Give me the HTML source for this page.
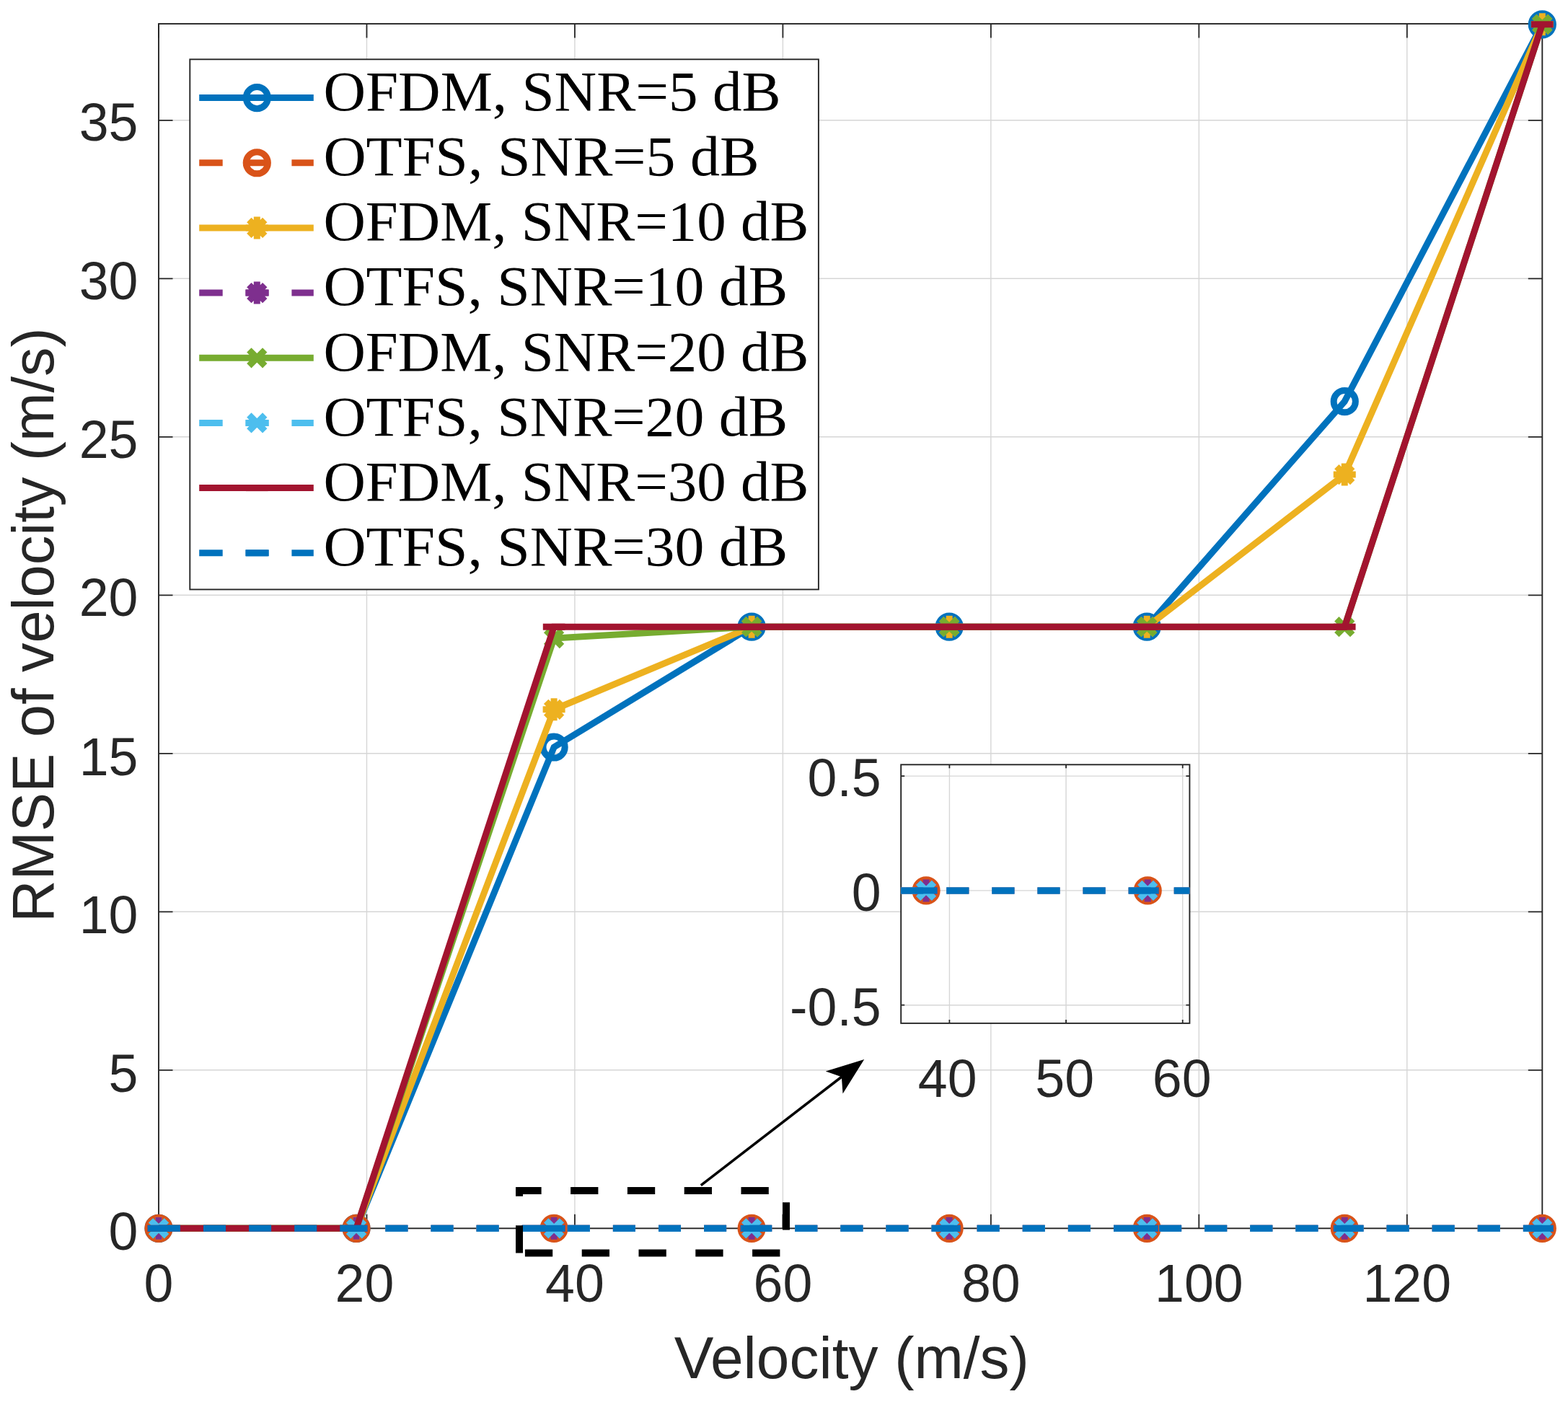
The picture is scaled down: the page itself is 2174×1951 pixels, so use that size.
<!DOCTYPE html>
<html><head><meta charset="utf-8"><title>RMSE of velocity</title>
<style>html,body{margin:0;padding:0;background:#fff;width:2174px;height:1951px;overflow:hidden}svg{display:block}</style>
</head><body>
<svg width="2174" height="1951" viewBox="0 0 2174 1951">
<rect x="0" y="0" width="2174" height="1951" fill="#ffffff"/>
<path d="M508.47 33V1703.3M796.93 33V1703.3M1085.4 33V1703.3M1373.86 33V1703.3M1662.33 33V1703.3M1950.8 33V1703.3M220 1483.8H2138.3M220 1264.3H2138.3M220 1044.8H2138.3M220 825.3H2138.3M220 605.8H2138.3M220 386.3H2138.3M220 166.8H2138.3" stroke="#d6d6d6" stroke-width="1.4" fill="none"/>
<path d="M220 1703.3V1683.8M220 33V52.5M508.47 1703.3V1683.8M508.47 33V52.5M796.93 1703.3V1683.8M796.93 33V52.5M1085.4 1703.3V1683.8M1085.4 33V52.5M1373.86 1703.3V1683.8M1373.86 33V52.5M1662.33 1703.3V1683.8M1662.33 33V52.5M1950.8 1703.3V1683.8M1950.8 33V52.5M220 1703.3H239.5M2138.3 1703.3H2118.8M220 1483.8H239.5M2138.3 1483.8H2118.8M220 1264.3H239.5M2138.3 1264.3H2118.8M220 1044.8H239.5M2138.3 1044.8H2118.8M220 825.3H239.5M2138.3 825.3H2118.8M220 605.8H239.5M2138.3 605.8H2118.8M220 386.3H239.5M2138.3 386.3H2118.8M220 166.8H239.5M2138.3 166.8H2118.8" stroke="#262626" stroke-width="1.8" fill="none"/>
<rect x="220" y="33" width="1918.3" height="1670.3" fill="none" stroke="#262626" stroke-width="1.9"/>
<polyline points="220,1703.3 494.04,1703.3 768.09,1036.02 1042.13,869.2 1316.17,869.2 1590.21,869.2 1864.26,556.63 2138.3,33.78" fill="none" stroke="#0072BD" stroke-width="9" stroke-linejoin="miter" stroke-miterlimit="10"/>
<circle cx="220" cy="1703.3" r="15.1" fill="none" stroke="#0072BD" stroke-width="9"/>
<circle cx="494.04" cy="1703.3" r="15.1" fill="none" stroke="#0072BD" stroke-width="9"/>
<circle cx="768.09" cy="1036.02" r="15.1" fill="none" stroke="#0072BD" stroke-width="9"/>
<circle cx="1042.13" cy="869.2" r="15.1" fill="none" stroke="#0072BD" stroke-width="9"/>
<circle cx="1316.17" cy="869.2" r="15.1" fill="none" stroke="#0072BD" stroke-width="9"/>
<circle cx="1590.21" cy="869.2" r="15.1" fill="none" stroke="#0072BD" stroke-width="9"/>
<circle cx="1864.26" cy="556.63" r="15.1" fill="none" stroke="#0072BD" stroke-width="9"/>
<circle cx="2138.3" cy="33.78" r="15.1" fill="none" stroke="#0072BD" stroke-width="9"/>
<polyline points="220,1703.3 494.04,1703.3 768.09,1703.3 1042.13,1703.3 1316.17,1703.3 1590.21,1703.3 1864.26,1703.3 2138.3,1703.3" fill="none" stroke="#D95319" stroke-width="9" stroke-dasharray="31 32.1" stroke-dashoffset="1.1"/>
<circle cx="220" cy="1703.3" r="15.1" fill="none" stroke="#D95319" stroke-width="9"/>
<circle cx="494.04" cy="1703.3" r="15.1" fill="none" stroke="#D95319" stroke-width="9"/>
<circle cx="768.09" cy="1703.3" r="15.1" fill="none" stroke="#D95319" stroke-width="9"/>
<circle cx="1042.13" cy="1703.3" r="15.1" fill="none" stroke="#D95319" stroke-width="9"/>
<circle cx="1316.17" cy="1703.3" r="15.1" fill="none" stroke="#D95319" stroke-width="9"/>
<circle cx="1590.21" cy="1703.3" r="15.1" fill="none" stroke="#D95319" stroke-width="9"/>
<circle cx="1864.26" cy="1703.3" r="15.1" fill="none" stroke="#D95319" stroke-width="9"/>
<circle cx="2138.3" cy="1703.3" r="15.1" fill="none" stroke="#D95319" stroke-width="9"/>
<polyline points="220,1703.3 494.04,1703.3 768.09,983.78 1042.13,869.2 1316.17,869.2 1590.21,869.2 1864.26,658.04 2138.3,33.78" fill="none" stroke="#EDB120" stroke-width="9" stroke-linejoin="miter" stroke-miterlimit="10"/>
<path d="M204.5 1703.3L235.5 1703.3M220 1687.8L220 1718.8M209.04 1692.34L230.96 1714.26M209.04 1714.26L230.96 1692.34" stroke="#EDB120" stroke-width="9" fill="none"/>
<path d="M478.54 1703.3L509.54 1703.3M494.04 1687.8L494.04 1718.8M483.08 1692.34L505 1714.26M483.08 1714.26L505 1692.34" stroke="#EDB120" stroke-width="9" fill="none"/>
<path d="M752.59 983.78L783.59 983.78M768.09 968.28L768.09 999.28M757.13 972.82L779.05 994.74M757.13 994.74L779.05 972.82" stroke="#EDB120" stroke-width="9" fill="none"/>
<path d="M1026.63 869.2L1057.63 869.2M1042.13 853.7L1042.13 884.7M1031.17 858.24L1053.09 880.16M1031.17 880.16L1053.09 858.24" stroke="#EDB120" stroke-width="9" fill="none"/>
<path d="M1300.67 869.2L1331.67 869.2M1316.17 853.7L1316.17 884.7M1305.21 858.24L1327.13 880.16M1305.21 880.16L1327.13 858.24" stroke="#EDB120" stroke-width="9" fill="none"/>
<path d="M1574.71 869.2L1605.71 869.2M1590.21 853.7L1590.21 884.7M1579.25 858.24L1601.17 880.16M1579.25 880.16L1601.17 858.24" stroke="#EDB120" stroke-width="9" fill="none"/>
<path d="M1848.76 658.04L1879.76 658.04M1864.26 642.54L1864.26 673.54M1853.3 647.08L1875.22 669M1853.3 669L1875.22 647.08" stroke="#EDB120" stroke-width="9" fill="none"/>
<path d="M2122.8 33.78L2153.8 33.78M2138.3 18.28L2138.3 49.28M2127.34 22.82L2149.26 44.74M2127.34 44.74L2149.26 22.82" stroke="#EDB120" stroke-width="9" fill="none"/>
<polyline points="220,1703.3 494.04,1703.3 768.09,1703.3 1042.13,1703.3 1316.17,1703.3 1590.21,1703.3 1864.26,1703.3 2138.3,1703.3" fill="none" stroke="#7E2F8E" stroke-width="9" stroke-dasharray="31 32.1" stroke-dashoffset="1.1"/>
<path d="M204.5 1703.3L235.5 1703.3M220 1687.8L220 1718.8M209.04 1692.34L230.96 1714.26M209.04 1714.26L230.96 1692.34" stroke="#7E2F8E" stroke-width="9" fill="none"/>
<path d="M478.54 1703.3L509.54 1703.3M494.04 1687.8L494.04 1718.8M483.08 1692.34L505 1714.26M483.08 1714.26L505 1692.34" stroke="#7E2F8E" stroke-width="9" fill="none"/>
<path d="M752.59 1703.3L783.59 1703.3M768.09 1687.8L768.09 1718.8M757.13 1692.34L779.05 1714.26M757.13 1714.26L779.05 1692.34" stroke="#7E2F8E" stroke-width="9" fill="none"/>
<path d="M1026.63 1703.3L1057.63 1703.3M1042.13 1687.8L1042.13 1718.8M1031.17 1692.34L1053.09 1714.26M1031.17 1714.26L1053.09 1692.34" stroke="#7E2F8E" stroke-width="9" fill="none"/>
<path d="M1300.67 1703.3L1331.67 1703.3M1316.17 1687.8L1316.17 1718.8M1305.21 1692.34L1327.13 1714.26M1305.21 1714.26L1327.13 1692.34" stroke="#7E2F8E" stroke-width="9" fill="none"/>
<path d="M1574.71 1703.3L1605.71 1703.3M1590.21 1687.8L1590.21 1718.8M1579.25 1692.34L1601.17 1714.26M1579.25 1714.26L1601.17 1692.34" stroke="#7E2F8E" stroke-width="9" fill="none"/>
<path d="M1848.76 1703.3L1879.76 1703.3M1864.26 1687.8L1864.26 1718.8M1853.3 1692.34L1875.22 1714.26M1853.3 1714.26L1875.22 1692.34" stroke="#7E2F8E" stroke-width="9" fill="none"/>
<path d="M2122.8 1703.3L2153.8 1703.3M2138.3 1687.8L2138.3 1718.8M2127.34 1692.34L2149.26 1714.26M2127.34 1714.26L2149.26 1692.34" stroke="#7E2F8E" stroke-width="9" fill="none"/>
<polyline points="220,1703.3 494.04,1703.3 768.09,885 1042.13,869.2 1316.17,869.2 1590.21,869.2 1864.26,869.2 2138.3,33.78" fill="none" stroke="#77AC30" stroke-width="9" stroke-linejoin="miter" stroke-miterlimit="10"/>
<path d="M209.04 1692.34L230.96 1714.26M209.04 1714.26L230.96 1692.34" stroke="#77AC30" stroke-width="9" fill="none"/>
<path d="M483.08 1692.34L505 1714.26M483.08 1714.26L505 1692.34" stroke="#77AC30" stroke-width="9" fill="none"/>
<path d="M757.13 874.04L779.05 895.96M757.13 895.96L779.05 874.04" stroke="#77AC30" stroke-width="9" fill="none"/>
<path d="M1031.17 858.24L1053.09 880.16M1031.17 880.16L1053.09 858.24" stroke="#77AC30" stroke-width="9" fill="none"/>
<path d="M1305.21 858.24L1327.13 880.16M1305.21 880.16L1327.13 858.24" stroke="#77AC30" stroke-width="9" fill="none"/>
<path d="M1579.25 858.24L1601.17 880.16M1579.25 880.16L1601.17 858.24" stroke="#77AC30" stroke-width="9" fill="none"/>
<path d="M1853.3 858.24L1875.22 880.16M1853.3 880.16L1875.22 858.24" stroke="#77AC30" stroke-width="9" fill="none"/>
<path d="M2127.34 22.82L2149.26 44.74M2127.34 44.74L2149.26 22.82" stroke="#77AC30" stroke-width="9" fill="none"/>
<polyline points="220,1703.3 494.04,1703.3 768.09,1703.3 1042.13,1703.3 1316.17,1703.3 1590.21,1703.3 1864.26,1703.3 2138.3,1703.3" fill="none" stroke="#4DBEEE" stroke-width="9" stroke-dasharray="31 32.1" stroke-dashoffset="1.1"/>
<path d="M209.04 1692.34L230.96 1714.26M209.04 1714.26L230.96 1692.34" stroke="#4DBEEE" stroke-width="9" fill="none"/>
<path d="M483.08 1692.34L505 1714.26M483.08 1714.26L505 1692.34" stroke="#4DBEEE" stroke-width="9" fill="none"/>
<path d="M757.13 1692.34L779.05 1714.26M757.13 1714.26L779.05 1692.34" stroke="#4DBEEE" stroke-width="9" fill="none"/>
<path d="M1031.17 1692.34L1053.09 1714.26M1031.17 1714.26L1053.09 1692.34" stroke="#4DBEEE" stroke-width="9" fill="none"/>
<path d="M1305.21 1692.34L1327.13 1714.26M1305.21 1714.26L1327.13 1692.34" stroke="#4DBEEE" stroke-width="9" fill="none"/>
<path d="M1579.25 1692.34L1601.17 1714.26M1579.25 1714.26L1601.17 1692.34" stroke="#4DBEEE" stroke-width="9" fill="none"/>
<path d="M1853.3 1692.34L1875.22 1714.26M1853.3 1714.26L1875.22 1692.34" stroke="#4DBEEE" stroke-width="9" fill="none"/>
<path d="M2127.34 1692.34L2149.26 1714.26M2127.34 1714.26L2149.26 1692.34" stroke="#4DBEEE" stroke-width="9" fill="none"/>
<polyline points="220,1703.3 494.04,1703.3 768.09,869.2 1042.13,869.2 1316.17,869.2 1590.21,869.2 1864.26,869.2 2138.3,33.78" fill="none" stroke="#A2142F" stroke-width="9" stroke-linejoin="miter" stroke-miterlimit="10"/>
<path d="M204.7 1703.3H235.3" stroke="#A2142F" stroke-width="9" fill="none"/>
<path d="M478.74 1703.3H509.34" stroke="#A2142F" stroke-width="9" fill="none"/>
<path d="M752.79 869.2H783.39" stroke="#A2142F" stroke-width="9" fill="none"/>
<path d="M1026.83 869.2H1057.43" stroke="#A2142F" stroke-width="9" fill="none"/>
<path d="M1300.87 869.2H1331.47" stroke="#A2142F" stroke-width="9" fill="none"/>
<path d="M1574.91 869.2H1605.51" stroke="#A2142F" stroke-width="9" fill="none"/>
<path d="M1848.96 869.2H1879.56" stroke="#A2142F" stroke-width="9" fill="none"/>
<path d="M2123 33.78H2153.6" stroke="#A2142F" stroke-width="9" fill="none"/>
<polyline points="220,1703.3 494.04,1703.3 768.09,1703.3 1042.13,1703.3 1316.17,1703.3 1590.21,1703.3 1864.26,1703.3 2138.3,1703.3" fill="none" stroke="#0072BD" stroke-width="9" stroke-dasharray="31 32.1" stroke-dashoffset="1.1"/>
<path d="M204.7 1703.3H235.3" stroke="#0072BD" stroke-width="9" fill="none"/>
<path d="M478.74 1703.3H509.34" stroke="#0072BD" stroke-width="9" fill="none"/>
<path d="M752.79 1703.3H783.39" stroke="#0072BD" stroke-width="9" fill="none"/>
<path d="M1026.83 1703.3H1057.43" stroke="#0072BD" stroke-width="9" fill="none"/>
<path d="M1300.87 1703.3H1331.47" stroke="#0072BD" stroke-width="9" fill="none"/>
<path d="M1574.91 1703.3H1605.51" stroke="#0072BD" stroke-width="9" fill="none"/>
<path d="M1848.96 1703.3H1879.56" stroke="#0072BD" stroke-width="9" fill="none"/>
<path d="M2123 1703.3H2153.6" stroke="#0072BD" stroke-width="9" fill="none"/>
<g font-family="Liberation Sans, Arial, sans-serif" font-size="73.5" fill="#262626">
<text x="220" y="1804.6" text-anchor="middle">0</text>
<text x="505.47" y="1804.6" text-anchor="middle">20</text>
<text x="796.93" y="1804.6" text-anchor="middle">40</text>
<text x="1085.4" y="1804.6" text-anchor="middle">60</text>
<text x="1373.86" y="1804.6" text-anchor="middle">80</text>
<text x="1662.33" y="1804.6" text-anchor="middle">100</text>
<text x="1950.8" y="1804.6" text-anchor="middle">120</text>
<text x="191.5" y="1732.8" text-anchor="end">0</text>
<text x="191.5" y="1514.2" text-anchor="end">5</text>
<text x="191.5" y="1293.6" text-anchor="end">10</text>
<text x="191.5" y="1074.8" text-anchor="end">15</text>
<text x="191.5" y="853.9" text-anchor="end">20</text>
<text x="191.5" y="634.8" text-anchor="end">25</text>
<text x="191.5" y="414.6" text-anchor="end">30</text>
<text x="191.5" y="195" text-anchor="end">35</text>
</g>
<text x="1180.9" y="1910.8" text-anchor="middle" font-family="Liberation Sans, Arial, sans-serif" font-size="82" fill="#262626">Velocity (m/s)</text>
<text transform="translate(74.2 866.75) rotate(-90)" x="0" y="0" text-anchor="middle" font-family="Liberation Sans, Arial, sans-serif" font-size="81.1" fill="#262626">RMSE of velocity (m/s)</text>
<rect x="263.3" y="82.3" width="871.6" height="735.1" fill="#ffffff" stroke="#262626" stroke-width="1.9"/>
<path d="M276.2 135.6H434.8" stroke="#0072BD" stroke-width="9" fill="none"/>
<circle cx="356.3" cy="135.6" r="15.1" fill="none" stroke="#0072BD" stroke-width="9"/>
<path d="M276.2 225.77H434.8" stroke="#D95319" stroke-width="9" stroke-dasharray="32.5 31.6" fill="none"/>
<circle cx="356.3" cy="225.77" r="15.1" fill="none" stroke="#D95319" stroke-width="9"/>
<path d="M276.2 315.94H434.8" stroke="#EDB120" stroke-width="9" fill="none"/>
<path d="M340.8 315.94L371.8 315.94M356.3 300.44L356.3 331.44M345.34 304.98L367.26 326.9M345.34 326.9L367.26 304.98" stroke="#EDB120" stroke-width="9" fill="none"/>
<path d="M276.2 406.11H434.8" stroke="#7E2F8E" stroke-width="9" stroke-dasharray="32.5 31.6" fill="none"/>
<path d="M340.8 406.11L371.8 406.11M356.3 390.61L356.3 421.61M345.34 395.15L367.26 417.07M345.34 417.07L367.26 395.15" stroke="#7E2F8E" stroke-width="9" fill="none"/>
<path d="M276.2 496.28H434.8" stroke="#77AC30" stroke-width="9" fill="none"/>
<path d="M345.34 485.32L367.26 507.24M345.34 507.24L367.26 485.32" stroke="#77AC30" stroke-width="9" fill="none"/>
<path d="M276.2 586.45H434.8" stroke="#4DBEEE" stroke-width="9" stroke-dasharray="32.5 31.6" fill="none"/>
<path d="M345.34 575.49L367.26 597.41M345.34 597.41L367.26 575.49" stroke="#4DBEEE" stroke-width="9" fill="none"/>
<path d="M276.2 676.62H434.8" stroke="#A2142F" stroke-width="9" fill="none"/>
<path d="M341 676.62H371.6" stroke="#A2142F" stroke-width="9" fill="none"/>
<path d="M276.2 766.79H434.8" stroke="#0072BD" stroke-width="9" stroke-dasharray="32.5 31.6" fill="none"/>
<path d="M341 766.79H371.6" stroke="#0072BD" stroke-width="9" fill="none"/>
<g font-family="Liberation Serif, Times New Roman, serif" font-size="78" fill="#000000">
<text x="448.4" y="152.8" textLength="634.2" lengthAdjust="spacingAndGlyphs">OFDM, SNR=5 dB</text>
<text x="448.4" y="243" textLength="604.4" lengthAdjust="spacingAndGlyphs">OTFS, SNR=5 dB</text>
<text x="448.4" y="333.2" textLength="673" lengthAdjust="spacingAndGlyphs">OFDM, SNR=10 dB</text>
<text x="448.4" y="423.4" textLength="643.9" lengthAdjust="spacingAndGlyphs">OTFS, SNR=10 dB</text>
<text x="448.4" y="513.6" textLength="673" lengthAdjust="spacingAndGlyphs">OFDM, SNR=20 dB</text>
<text x="448.4" y="603.8" textLength="643.9" lengthAdjust="spacingAndGlyphs">OTFS, SNR=20 dB</text>
<text x="448.4" y="694" textLength="673" lengthAdjust="spacingAndGlyphs">OFDM, SNR=30 dB</text>
<text x="448.4" y="784.2" textLength="643.9" lengthAdjust="spacingAndGlyphs">OTFS, SNR=30 dB</text>
</g>
<rect x="1249.2" y="1060.3" width="400.2" height="358.6" fill="#ffffff"/>
<path d="M1316.4 1060.3V1418.9M1478.05 1060.3V1418.9M1639.7 1060.3V1418.9M1249.2 1393.7H1649.4M1249.2 1234.9H1649.4M1249.2 1076.1H1649.4" stroke="#d6d6d6" stroke-width="1.4" fill="none"/>
<path d="M1316.4 1418.9V1413.9M1316.4 1060.3V1065.3M1478.05 1418.9V1413.9M1478.05 1060.3V1065.3M1639.7 1418.9V1413.9M1639.7 1060.3V1065.3M1249.2 1393.7H1254.2M1649.4 1393.7H1644.4M1249.2 1234.9H1254.2M1649.4 1234.9H1644.4M1249.2 1076.1H1254.2M1649.4 1076.1H1644.4" stroke="#262626" stroke-width="1.8" fill="none"/>
<rect x="1249.2" y="1060.3" width="400.2" height="358.6" fill="none" stroke="#262626" stroke-width="1.9"/>
<path d="M1249.2 1234.9H1649.4" stroke="#D95319" stroke-width="9" stroke-dasharray="31 32.1" fill="none"/>
<circle cx="1284.07" cy="1234.9" r="15.1" fill="none" stroke="#D95319" stroke-width="9"/>
<circle cx="1591.21" cy="1234.9" r="15.1" fill="none" stroke="#D95319" stroke-width="9"/>
<path d="M1249.2 1234.9H1649.4" stroke="#7E2F8E" stroke-width="9" stroke-dasharray="31 32.1" fill="none"/>
<path d="M1268.57 1234.9L1299.57 1234.9M1284.07 1219.4L1284.07 1250.4M1273.11 1223.94L1295.03 1245.86M1273.11 1245.86L1295.03 1223.94" stroke="#7E2F8E" stroke-width="9" fill="none"/>
<path d="M1575.71 1234.9L1606.71 1234.9M1591.21 1219.4L1591.21 1250.4M1580.25 1223.94L1602.17 1245.86M1580.25 1245.86L1602.17 1223.94" stroke="#7E2F8E" stroke-width="9" fill="none"/>
<path d="M1249.2 1234.9H1649.4" stroke="#4DBEEE" stroke-width="9" stroke-dasharray="31 32.1" fill="none"/>
<path d="M1273.11 1223.94L1295.03 1245.86M1273.11 1245.86L1295.03 1223.94" stroke="#4DBEEE" stroke-width="9" fill="none"/>
<path d="M1580.25 1223.94L1602.17 1245.86M1580.25 1245.86L1602.17 1223.94" stroke="#4DBEEE" stroke-width="9" fill="none"/>
<path d="M1249.2 1234.9H1649.4" stroke="#0072BD" stroke-width="9" stroke-dasharray="31 32.1" fill="none"/>
<path d="M1268.77 1234.9H1299.37" stroke="#0072BD" stroke-width="9" fill="none"/>
<path d="M1575.91 1234.9H1606.51" stroke="#0072BD" stroke-width="9" fill="none"/>
<g font-family="Liberation Sans, Arial, sans-serif" font-size="73.5" fill="#262626">
<text x="1313.7" y="1520.7" text-anchor="middle">40</text>
<text x="1476.25" y="1520.7" text-anchor="middle">50</text>
<text x="1638.7" y="1520.7" text-anchor="middle">60</text>
<text x="1221.7" y="1104" text-anchor="end">0.5</text>
<text x="1221.7" y="1263.4" text-anchor="end">0</text>
<text x="1221.7" y="1421.6" text-anchor="end">-0.5</text>
</g>
<path d="M720 1737.5V1651H1090V1737.5Z" fill="none" stroke="#000000" stroke-width="10" stroke-dasharray="38.3 40.5" stroke-linejoin="miter"/>
<path d="M971.8 1643.6L1168.43 1491.96" stroke="#000000" stroke-width="3.6" fill="none"/>
<path d="M1198.2 1469L1168.54 1516.5L1166.84 1493.18L1144.72 1485.62Z" fill="#000000"/>
</svg>
</body></html>
